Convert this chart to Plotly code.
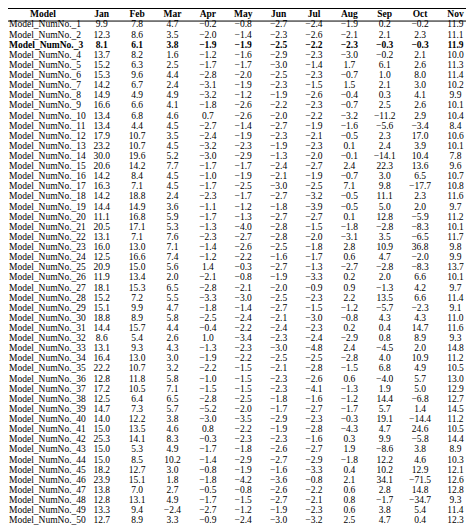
import plotly.graph_objects as go

models = ["Model_NumNo._%d" % i for i in range(1, 51)]
months = ["Jan", "Feb", "Mar", "Apr", "May", "Jun", "Jul", "Aug", "Sep", "Oct", "Nov", "Dec"]

jan = [9.9, 12.3, 8.1, 13.7, 15.2, 15.3, 14.2, 14.9, 16.6, 13.4, 13.4, 17.9, 23.2, 30.0, 20.6, 14.2, 16.3, 14.2, 14.4, 11.1,
       20.5, 13.1, 16.0, 12.5, 20.9, 11.9, 18.1, 15.2, 15.1, 18.8, 14.4, 8.6, 13.1, 16.4, 22.2, 12.8, 17.2, 12.5, 14.7, 14.0,
       15.0, 25.3, 15.0, 15.0, 18.2, 23.9, 13.8, 12.8, 13.3, 12.7]
feb = [7.8, 8.6, 6.1, 8.2, 6.3, 9.6, 6.7, 4.9, 6.6, 6.8, 4.4, 10.7, 10.7, 19.6, 14.2, 8.4, 7.1, 18.8, 14.9, 16.8,
       17.1, 7.1, 13.0, 16.6, 15.0, 13.4, 15.3, 7.2, 9.9, 8.9, 15.7, 5.4, 9.3, 13.0, 10.7, 11.8, 10.5, 6.4, 7.3, 12.2,
       13.5, 14.1, 5.3, 8.5, 12.7, 15.1, 7.0, 13.1, 9.4, 8.9]
mar = [4.7, 3.5, 3.8, 1.6, 2.5, 4.4, 2.4, 4.9, 4.1, 4.6, 4.5, 3.5, 4.5, 5.2, 7.7, 4.5, 4.5, 2.4, 3.6, 5.9,
       5.3, 7.6, 7.1, 7.4, 5.6, 2.0, 6.5, 5.5, 4.7, 5.8, 4.4, 2.6, 4.3, 3.0, 3.2, 5.8, 7.1, 6.5, 5.7, 3.8,
       4.6, 8.3, 4.9, 10.2, 3.0, 1.8, 2.7, 4.9, -2.4, 3.3]
apr = [-0.2, -2.0, -1.9, -1.2, -1.7, -2.8, -3.1, -3.2, -1.8, 0.7, -2.7, -2.4, -3.2, -3.0, -1.7, -1.0, -1.7, -2.3, -1.1, -1.7,
       -1.3, -2.3, -1.4, -1.2, 1.4, -2.1, -2.8, -3.3, -1.8, -2.5, -0.4, 1.0, -1.3, -1.9, -2.2, -1.0, -1.5, -2.8, -5.2, -3.0,
       0.8, -0.3, -1.7, -1.4, -0.8, -1.8, -0.5, -1.7, -2.7, -0.9]
may = [-0.8, -1.4, -1.9, -1.6, -1.7, -2.0, -1.9, -1.2, -2.6, -2.6, -1.4, -1.9, -2.3, -2.9, -1.7, -1.9, -2.5, -1.7, -1.2, -1.3,
       -4.0, -2.7, -2.6, -2.2, -0.3, -0.8, -2.1, -3.0, -1.4, -2.4, -2.2, -3.4, -2.3, -2.2, -1.5, -1.5, -1.5, -2.5, -2.0, -3.5,
       -2.2, -2.3, -1.8, -2.9, -1.9, -4.2, -0.8, -1.5, -1.2, -2.4]
jun = [-2.7, -2.3, -2.5, -2.9, -3.0, -2.5, -2.3, -1.9, -2.2, -2.0, -2.7, -2.3, -1.9, -1.3, -2.4, -2.1, -3.0, -2.7, -1.8, -2.7,
       -2.8, -2.8, -2.5, -1.6, -2.7, -1.9, -2.0, -2.5, -2.7, -2.1, -2.4, -2.3, -3.0, -2.5, -2.1, -2.3, -2.3, -1.8, -1.7, -2.9,
       -1.9, -2.3, -2.6, -2.7, -1.6, -3.6, -2.6, -2.7, -1.9, -3.0]
jul = [-2.4, -2.6, -2.2, -2.3, -1.4, -2.3, -1.5, -2.6, -2.3, -2.2, -1.9, -2.1, -2.3, -2.0, -2.7, -1.9, -2.5, -3.2, -3.9, -2.7,
       -1.5, -2.0, -1.8, -1.7, -1.3, -3.3, -0.9, -2.3, -1.5, -3.0, -2.3, -2.4, -4.8, -2.5, -2.8, -2.6, -4.1, -1.6, -2.7, -2.3,
       -2.8, -1.6, -2.7, -2.9, -3.3, -0.8, -2.2, -2.1, -2.3, -3.2]
aug = [-1.9, -2.1, -2.3, -3.0, 1.7, -0.7, 1.5, -0.4, -0.7, -3.2, -1.6, -0.5, 0.1, -0.1, 2.4, -0.7, 7.1, -0.5, -0.5, 0.1,
       -1.8, -3.1, 2.8, 0.6, -2.7, 0.2, 0.9, 2.2, -1.2, -0.8, 0.2, -2.9, 2.4, -2.8, -1.5, 0.6, -1.3, -1.2, -1.7, -0.3,
       -4.3, 0.3, 1.9, -1.8, 0.4, 2.1, 0.6, 0.8, 0.6, 2.5]
sep = [0.2, 2.1, -0.3, -0.2, 6.1, 1.0, 2.1, 0.3, 2.5, -11.2, -5.6, 2.3, 2.4, -14.1, 22.3, 3.0, 9.8, 11.1, 5.0, 12.8,
       -2.8, 3.5, 10.9, 4.7, -2.8, 2.0, -1.3, 13.5, -5.7, 4.3, 0.4, 0.8, -4.5, 4.0, 6.8, -4.0, 1.9, 14.4, 5.7, 19.1,
       4.7, 9.9, -8.6, 12.2, 10.2, 34.1, 2.8, -1.7, 3.8, 4.7]
oct_ = [-0.2, 2.3, -0.3, 2.1, 2.6, 8.0, 3.0, 4.1, 2.6, 2.9, -3.4, 17.0, 3.9, 10.4, 13.6, 6.5, -17.7, 2.3, 2.0, -5.9,
        -8.3, -6.5, 36.8, -2.0, -8.3, 6.6, 4.2, 6.6, -2.3, 4.3, 14.7, 8.9, 2.0, 10.9, 4.9, 5.7, 5.0, -6.8, 1.4, -14.4,
        24.6, -5.8, 3.8, 4.6, 12.9, -71.5, 14.8, -34.7, 5.4, 0.4]
nov = [11.9, 11.1, 11.9, 10.0, 11.3, 11.4, 10.2, 9.9, 10.1, 10.4, 8.4, 10.6, 10.1, 7.8, 9.6, 10.7, 10.8, 11.6, 9.7, 11.2,
       10.1, 11.7, 9.8, 9.9, 13.7, 10.1, 9.7, 11.4, 9.1, 11.0, 11.6, 9.3, 14.8, 11.2, 10.5, 13.0, 12.9, 12.7, 14.5, 11.2,
       10.5, 14.4, 8.9, 10.3, 12.1, 12.6, 12.8, 9.3, 11.4, 12.3]
dec = [11.9, 9.1, 10.8, 10.8, 12.5, 12.1, 11.7, 12.6, 12.1, 10.6, 11.5, 11.5, 10.9, 12.3, 11.7, 13.2, 10.3, 12.1, 11.1, 7.2,
       8.5, 9.6, 12.1, 9.6, 12.1, 10.4, 13.1, 10.4, 11.6, 13.8, 13.2, 10.2, 14.1, 11.7, 9.0, 14.0, 10.4, 13.2, 13.1, 11.4,
       10.9, 11.3, 13.3, 11.3, 14.1, 7.6, 10.9, 11.6, 12.1, 11.8]
columns = [jan, feb, mar, apr, may, jun, jul, aug, sep, oct_, nov, dec]
bold_row = 3

FONT = "Liberation Serif"
SIZE = 9.5


def fmt(v):
    return ("\u2212%.1f" % -v) if v < 0 else "%.1f" % v


def wrap(s, r):
    return "<b>%s</b>" % s if r == bold_row else s


rows = list(range(1, len(models) + 1))
fig = go.Figure()

# header
fig.add_trace(go.Scatter(x=[-0.66] + list(range(1, 13)), y=[0] * 13, mode="text",
                         text=["<b>Model</b>"] + ["<b>%s</b>" % m for m in months],
                         textfont=dict(family=FONT, size=SIZE, color="black"), hoverinfo="skip", cliponaxis=False))
# model names
fig.add_trace(go.Scatter(x=[-1.62] * len(models), y=rows, mode="text", textposition="middle right",
                         text=[wrap(m, r) for m, r in zip(models, rows)],
                         textfont=dict(family=FONT, size=SIZE, color="black"), hoverinfo="skip"))
for i, col in enumerate(columns):
    fig.add_trace(go.Scatter(x=[i + 1] * len(col), y=rows, mode="text",
                             text=[wrap(fmt(v), r) for v, r in zip(col, rows)],
                             textfont=dict(family=FONT, size=SIZE, color="black"), hoverinfo="skip"))

for yl in [-0.64, 0.6]:
    fig.add_shape(type="line", xref="paper", x0=0, x1=1, y0=yl, y1=yl, line=dict(color="black", width=1))

fig.update_layout(width=474, height=525, margin=dict(l=0, r=0, t=0, b=0),
                  plot_bgcolor="white", paper_bgcolor="white", showlegend=False,
                  xaxis=dict(range=[-1.65, 11.75], visible=False, fixedrange=True),
                  yaxis=dict(range=[51.2, -0.69], visible=False, fixedrange=True))
fig.write_html("out.html")
